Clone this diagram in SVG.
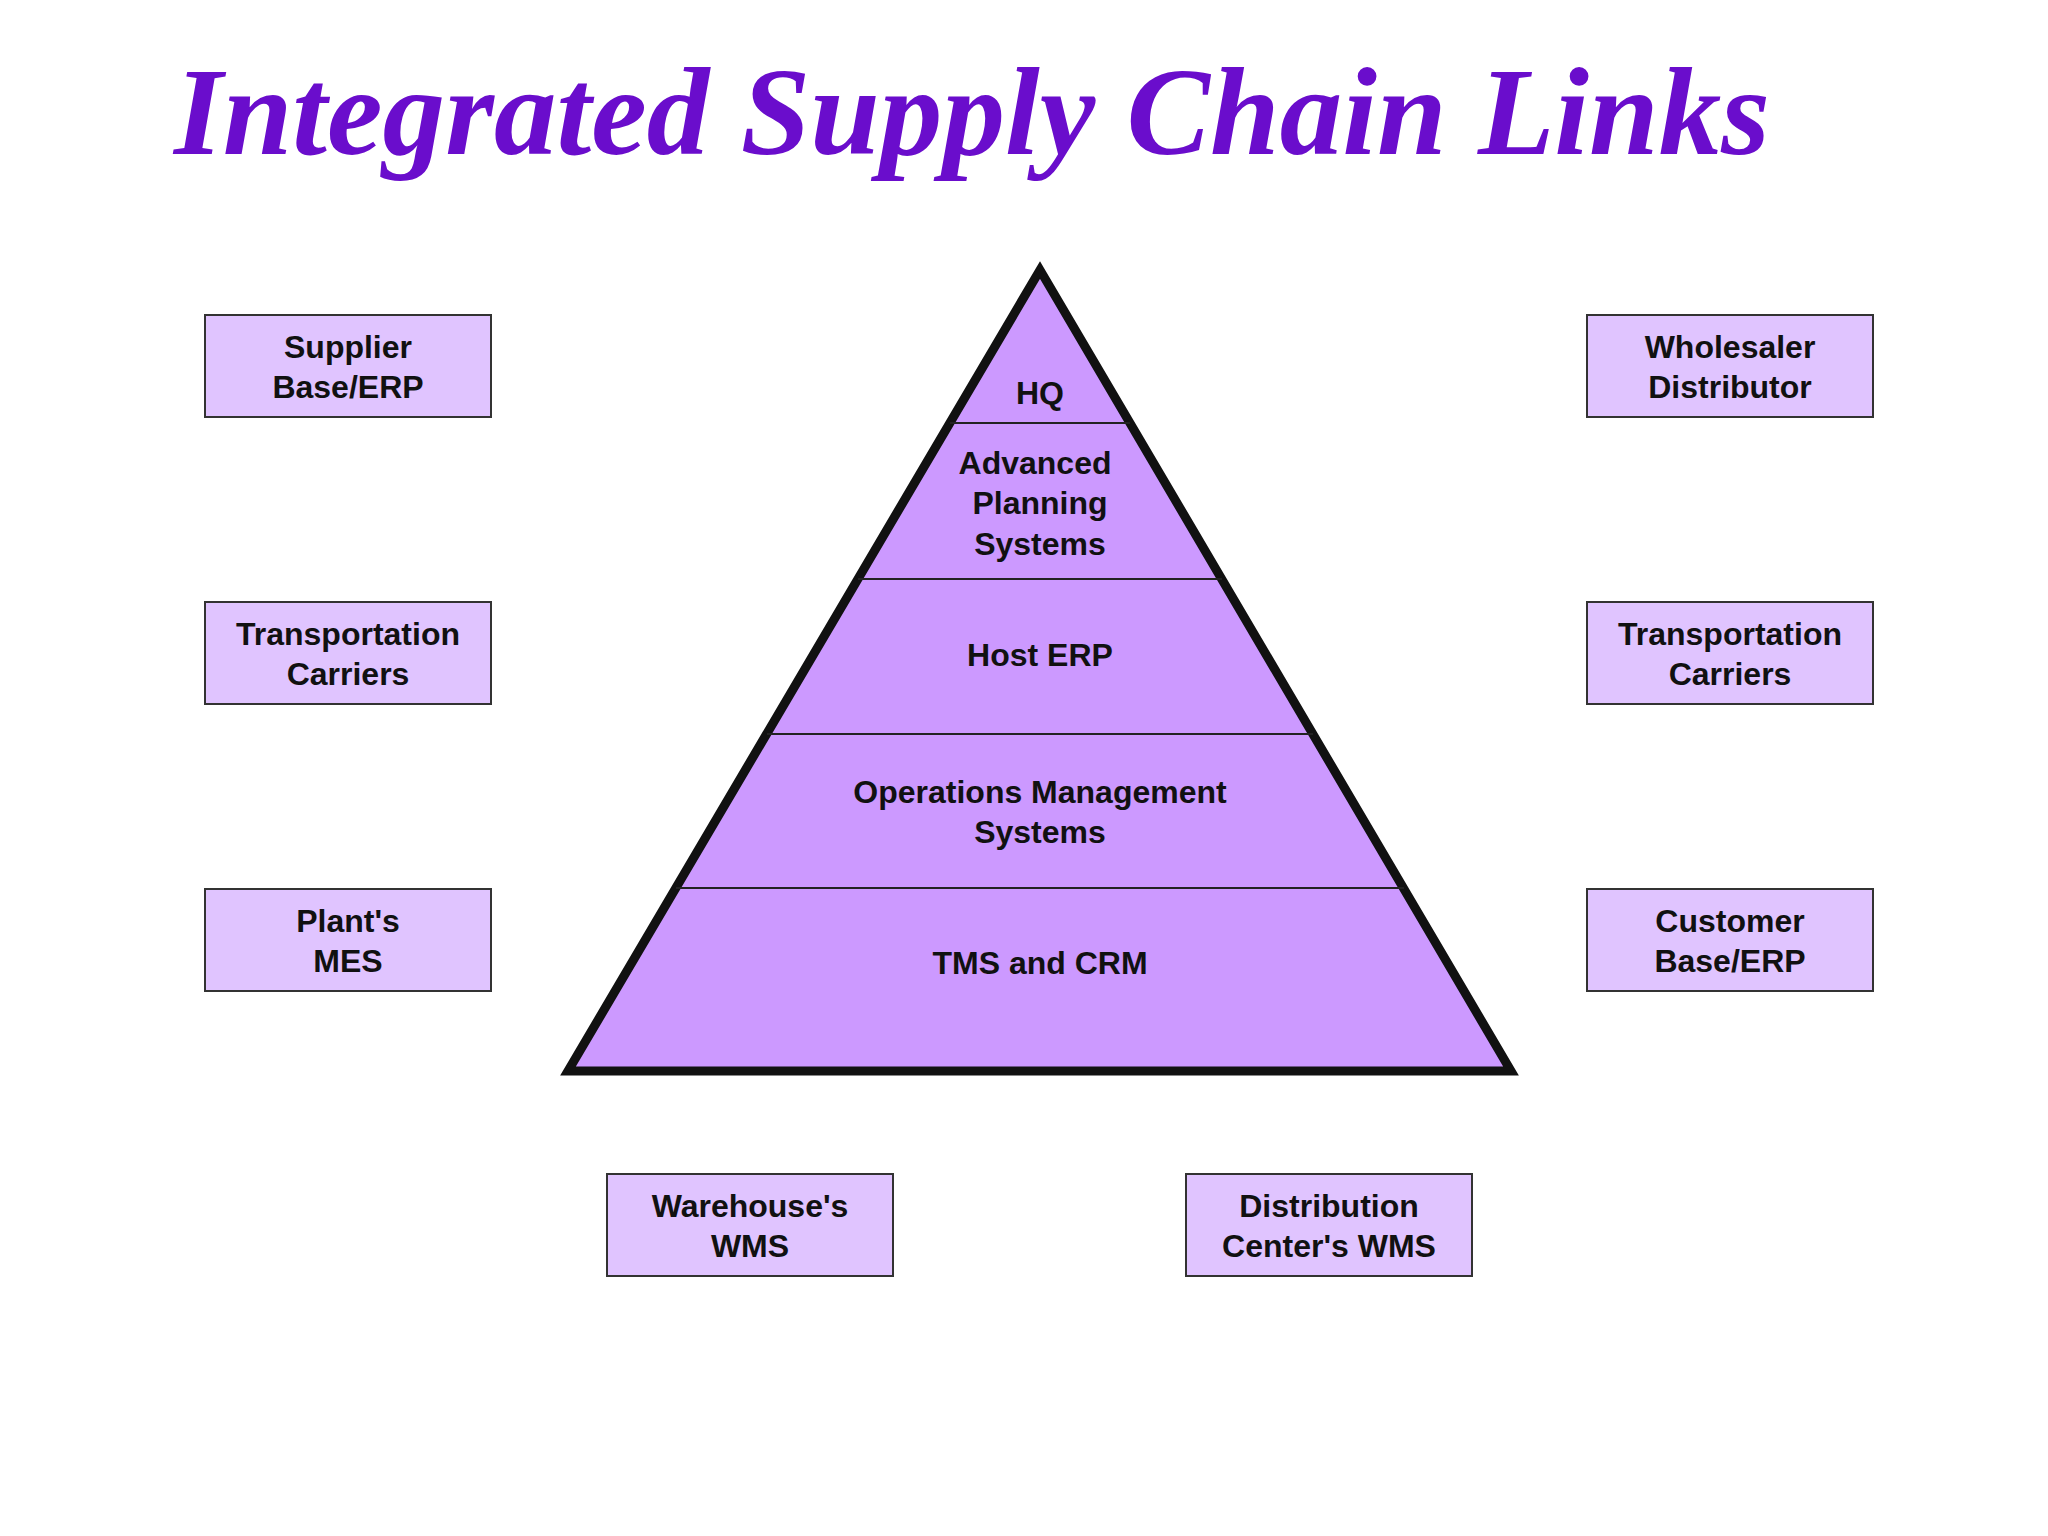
<svg xmlns="http://www.w3.org/2000/svg" width="2048" height="1536" viewBox="0 0 2048 1536">
<style>
.t{font-family:"Liberation Sans",Arial,sans-serif;font-weight:bold;font-size:32px;fill:#111;text-anchor:middle}
.b{fill:#e0c4ff;stroke:#333;stroke-width:2}
.d{stroke:#222;stroke-width:2}
</style>
<rect width="2048" height="1536" fill="#fff"/>
<text x="174" y="154" font-family="'Liberation Serif','Times New Roman',serif" font-weight="bold" font-style="italic" font-size="124" fill="#6a0dcc" textLength="1596" lengthAdjust="spacingAndGlyphs">Integrated Supply Chain Links</text>
<g id="pyramid">
<polygon points="1040,270 568,1071 1511,1071" fill="#cc99ff" stroke="#111" stroke-width="9" stroke-linejoin="miter"/>
<line class="d" x1="950" y1="423" x2="1130" y2="423"/>
<line class="d" x1="858" y1="579" x2="1222" y2="579"/>
<line class="d" x1="767" y1="734" x2="1313" y2="734"/>
<line class="d" x1="676" y1="888" x2="1404" y2="888"/>
<text class="t" x="1040" y="404" font-size="37">HQ</text>
<text class="t" x="1035" y="474">Advanced</text>
<text class="t" x="1040" y="514">Planning</text>
<text class="t" x="1040" y="555">Systems</text>
<text class="t" x="1040" y="666">Host ERP</text>
<text class="t" x="1040" y="803">Operations Management</text>
<text class="t" x="1040" y="843">Systems</text>
<text class="t" x="1040" y="974">TMS and CRM</text>
</g>
<g id="n1"><rect class="b" x="205" y="315" width="286" height="102"/><text class="t" x="348" y="358">Supplier</text><text class="t" x="348" y="398">Base/ERP</text></g>
<g id="n2"><rect class="b" x="205" y="602" width="286" height="102"/><text class="t" x="348" y="645">Transportation</text><text class="t" x="348" y="685">Carriers</text></g>
<g id="n3"><rect class="b" x="205" y="889" width="286" height="102"/><text class="t" x="348" y="932">Plant's</text><text class="t" x="348" y="972">MES</text></g>
<g id="n4"><rect class="b" x="1587" y="315" width="286" height="102"/><text class="t" x="1730" y="358">Wholesaler</text><text class="t" x="1730" y="398">Distributor</text></g>
<g id="n5"><rect class="b" x="1587" y="602" width="286" height="102"/><text class="t" x="1730" y="645">Transportation</text><text class="t" x="1730" y="685">Carriers</text></g>
<g id="n6"><rect class="b" x="1587" y="889" width="286" height="102"/><text class="t" x="1730" y="932">Customer</text><text class="t" x="1730" y="972">Base/ERP</text></g>
<g id="n7"><rect class="b" x="607" y="1174" width="286" height="102"/><text class="t" x="750" y="1217">Warehouse's</text><text class="t" x="750" y="1257">WMS</text></g>
<g id="n8"><rect class="b" x="1186" y="1174" width="286" height="102"/><text class="t" x="1329" y="1217">Distribution</text><text class="t" x="1329" y="1257">Center's WMS</text></g>
<g id="connectors"></g>
</svg>
